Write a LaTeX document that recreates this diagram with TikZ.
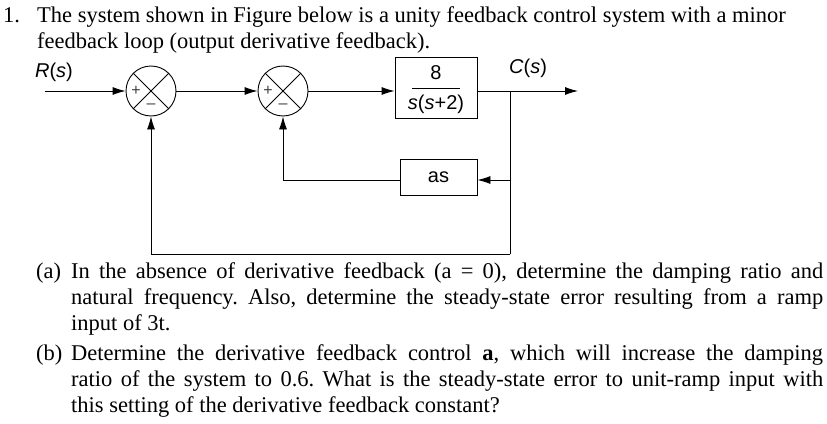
\documentclass[tikz,border=0pt]{standalone}
\usepackage{fontspec}
\setmainfont{Liberation Serif}
\newfontfamily\arial{Liberation Sans}
\usetikzlibrary{arrows.meta}
\frenchspacing
\begin{document}
\begin{tikzpicture}[x=1pt,y=-1pt,
  sumnode/.style={circle,draw,line width=0.9pt,minimum size=50pt,inner sep=0pt},
  blk/.style={draw,line width=0.9pt,font=\arial\fontsize{20}{22}\selectfont,inner sep=0pt},
  sig/.style={line width=0.9pt,-{Latex[length=13pt,width=8pt]}},
  wire/.style={line width=0.9pt},
  lbl/.style={font=\arial\fontsize{20}{22}\selectfont},
  txt/.style={anchor=base west,inner sep=0pt,font=\fontsize{22.5}{26}\selectfont}]
\useasboundingbox (0,0) rectangle (827,423);
\fill[white] (0,0) rectangle (827,423);
% text
\node[txt] (n1) at (3,22) {1.};
\node[txt] (t1) at (37,22) {The system shown in Figure below is a unity feedback control system with a minor};
\node[txt] (t2) at (37,48) {feedback loop (output derivative feedback).};
\node[txt] (a0) at (36,278) {(a)};
\node[txt] (a1) at (71,278) {\makebox[752pt][s]{In the absence of derivative feedback (a = 0), determine the damping ratio and}};
\node[txt] (a2) at (71,304) {\makebox[752pt][s]{natural frequency. Also, determine the steady-state error resulting from a ramp}};
\node[txt] (a3) at (71,330) {input of 3t.};
\node[txt] (b0) at (36,360) {(b)};
\node[txt] (b1) at (71,360) {\makebox[752pt][s]{Determine the derivative feedback control \textbf{a}, which will increase the damping}};
\node[txt] (b2) at (71,386) {\makebox[752pt][s]{ratio of the system to 0.6. What is the steady-state error to unit-ramp input with}};
\node[txt] (b3) at (71,412) {this setting of the derivative feedback constant?};
% diagram
\node[sumnode] (s1) at (151,91) {};
\node[sumnode] (s2) at (283,91) {};
\foreach \s in {s1,s2}{
  \draw[wire] (\s.north west) -- (\s.south east);
  \draw[wire] (\s.south west) -- (\s.north east);
  \node[font=\arial\fontsize{16}{16}\selectfont,text=black!75] at ([xshift=-15pt]\s.center) {+};
  \node[font=\arial\fontsize{16}{16}\selectfont,text=black!75] at ([yshift=-15pt]\s.center) {–};
}
\node[blk,minimum width=82pt,minimum height=61pt] (g) at (436,88) {};
\node[lbl] (num) at (436,73) {8};
\draw[line width=0.8pt] (412,88) -- (460,88);
\node[lbl] (den) at (436,104) {\textit{s}(\textit{s}+2)};
\node[blk,minimum width=77pt,minimum height=36pt] (h) at (438.5,177) {as};
\node[lbl] (R) at (54,72) {\textit{R}(\textit{s})};
\node[lbl] (C) at (528,68) {\textit{C}(\textit{s})};
\coordinate (in) at (45,91);
\coordinate (out) at (578,91);
\coordinate (br) at (510,91);
\coordinate (brh) at (510,180);
\coordinate (bot) at (510,254);
\draw[sig] (in) -- (s1.west);
\draw[sig] (s1.east) -- (s2.west);
\draw[sig] (s2.east) -- (g.west |- s2.east);
\draw[sig] (g.east |- br) -- (out);
\draw[wire] (br) -- (bot);
\draw[sig] (brh) -- (h.east |- brh);
\draw[sig] (h.west |- brh) -| (s2.south);
\draw[sig] (bot) -| (s1.south);
\end{tikzpicture}
\end{document}
